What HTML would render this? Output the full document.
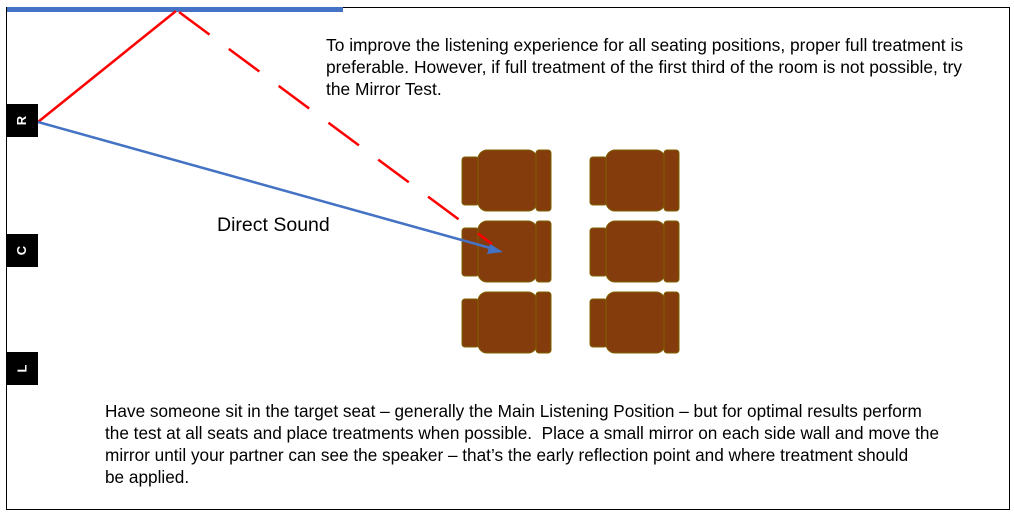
<!DOCTYPE html>
<html><head><style>
body{margin:0;width:1014px;height:523px;background:#fff;position:relative;overflow:hidden;font-family:"Liberation Sans",sans-serif;}
.t{position:absolute;font-size:17.2px;line-height:22px;color:#000;white-space:nowrap;}
.spk{position:absolute;left:6px;width:32px;height:33px;background:#000;color:#fff;font-weight:bold;font-size:13px;display:flex;align-items:center;justify-content:center;}
.spk span{transform:rotate(-90deg);display:block}
</style></head><body>
<svg width="1014" height="523" style="position:absolute;left:0;top:0">
<rect x="6.5" y="7.5" width="1003" height="502" fill="none" stroke="#000" stroke-width="1"/>
<rect x="7" y="7" width="336" height="5" fill="#4472c4"/>
<g fill="#843c0c" stroke="#7f6000" stroke-width="1">
<g id="c"><rect x="462" y="157" width="17" height="48" rx="3"/><rect x="478" y="150" width="59" height="61" rx="9"/><rect x="536" y="150" width="15" height="61" rx="3"/></g>
<use href="#c" x="0" y="71"/><use href="#c" x="0" y="142"/>
<use href="#c" x="128" y="0"/><use href="#c" x="128" y="71"/><use href="#c" x="128" y="142"/>
</g>
<line x1="38" y1="122" x2="176" y2="11" stroke="#f00" stroke-width="2.5"/>
<line x1="179" y1="12" x2="492" y2="244" stroke="#f00" stroke-width="2.5" stroke-dasharray="38,24"/>
<line x1="38" y1="122" x2="494" y2="249" stroke="#4472c4" stroke-width="2.5"/>
<polygon points="503,252 490,244 487,254" fill="#4472c4"/>
</svg>
<div class="spk" style="top:104px"><span>R</span></div>
<div class="spk" style="top:234px"><span>C</span></div>
<div class="spk" style="top:352px"><span>L</span></div>
<div class="t" style="left:326px;top:34px;font-size:17.4px">To improve the listening experience for all seating positions, proper full treatment is<br>preferable. However, if full treatment of the first third of the room is not possible, try<br>the Mirror Test.</div>
<div class="t" style="left:217px;top:214px;font-size:19.5px">Direct Sound</div>
<div class="t" style="left:105px;top:400px">Have someone sit in the target seat – generally the Main Listening Position – but for optimal results perform<br>the test at all seats and place treatments when possible.&nbsp; Place a small mirror on each side wall and move the<br>mirror until your partner can see the speaker – that’s the early reflection point and where treatment should<br>be applied.</div>
</body></html>
